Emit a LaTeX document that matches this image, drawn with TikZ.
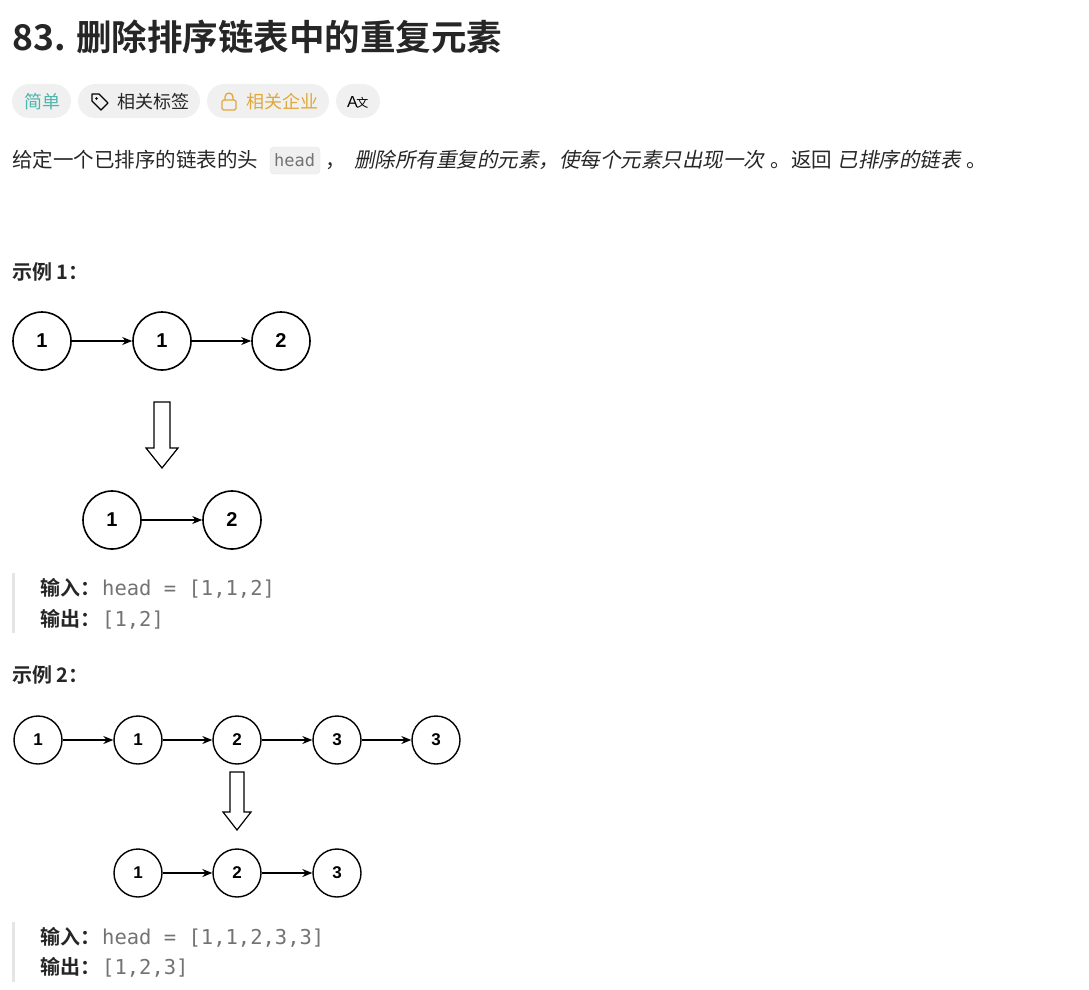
\documentclass[tikz,border=0pt]{standalone}
\usepackage{fontspec}
\setmainfont{Noto Sans CJK SC}
\newfontfamily\cjkr{Noto Sans CJK SC}
\newfontfamily\cjkb{Noto Sans CJK SC Bold}
\newfontfamily\numf{Liberation Sans}
\newfontfamily\monof{DejaVu Sans Mono}
\usetikzlibrary{arrows.meta}
\definecolor{pill}{HTML}{F0F0F0}
\definecolor{txt}{HTML}{262626}
\definecolor{gry}{HTML}{737373}
\definecolor{gold}{HTML}{E0A83A}
\definecolor{tealc}{HTML}{4DB6AC}
\begin{document}
\begin{tikzpicture}[x=1pt,y=-1pt,
 nd/.style={circle,draw,line width=1.6pt,minimum size=#1,inner sep=0pt,font=\numf\bfseries\fontsize{20}{20}\selectfont},
 ar/.style={-{Stealth[length=10pt,width=8pt]},line width=1.1pt},
 pl/.style={fill=pill,rounded corners=17pt},
 t18/.style={anchor=base west,inner sep=0pt,font=\fontsize{18}{18}\selectfont,text=txt},
 t20/.style={anchor=base west,inner sep=0pt,font=\fontsize{20.5}{20.5}\selectfont,text=txt},
 bl/.style={anchor=base west,inner sep=0pt,font=\cjkb\fontsize{20}{20}\selectfont,text=txt},
 mo/.style={anchor=base west,inner sep=0pt,font=\monof\fontsize{20.5}{20.5}\selectfont,text=gry},
 dn/.style={draw,line width=1.2pt,fill=white}]
\useasboundingbox (0,0) rectangle (1089,989);
% title
\node[anchor=base west,inner sep=0pt,font=\cjkb\fontsize{35.5}{35.5}\selectfont,text=txt] (title) at (12,50) {83. 删除排序链表中的重复元素};
% pills
\fill[pl] (12,84) rectangle (71,118);
\fill[pl] (78,84) rectangle (200,118);
\fill[pl] (207,84) rectangle (329,118);
\fill[pl] (336,84) rectangle (380,118);
\node[t18,text=tealc] (p1) at (24,108) {简单};
\draw[line width=1.4pt,line join=round] (92,94) -- (99,94) -- (108,103) -- (101,110) -- (92,101) -- cycle;
\fill (96.5,98.5) circle (1.3pt);
\node[t18] (p2) at (117,108) {相关标签};
\draw[line width=1.3pt,draw=gold,rounded corners=1.5pt] (222,100) rectangle (236,110);
\draw[line width=1.3pt,draw=gold] (225,100) -- (225,97) arc (180:360:4) -- (233,100);
\node[t18,text=gold] (p3) at (246,108) {相关企业};
\node[anchor=base west,inner sep=0pt,font=\numf\fontsize{16}{16}\selectfont] (p4) at (347,107) {A\kern-1.5pt{\cjkr\fontsize{12}{12}\selectfont 文}};
% sentence
\node[t20] (s1) at (12,167) {给定一个已排序的链表的头};
\fill[pill,draw=black!10,rounded corners=4pt] (270,147) rectangle (320,174);
\node[anchor=base west,inner sep=0pt,font=\monof\fontsize{17}{17}\selectfont,text=gry] (hd) at (274,166) {head};
\node[t20] (s2) at (325,167) {，};
\node[t20] (s3) at (354,167) {\addfontfeature{FakeSlant=0.2}删除所有重复的元素，使每个元素只出现一次};
\node[t20] (s4) at ([xshift=6pt]s3.base east) {。返回};
\node[t20] (s5) at ([xshift=5pt]s4.base east) {\addfontfeature{FakeSlant=0.2}已排序的链表};
\node[t20] (s6) at ([xshift=6pt]s5.base east) {。};
% example 1
\node[bl] (e1) at (12,279) {示例 1：};
\node[nd=58pt] (a1) at (42,341) {1};
\node[nd=58pt] (a2) at (162,341) {1};
\node[nd=58pt] (a3) at (281,341) {2};
\draw[ar] (a1) -- (a2); \draw[ar] (a2) -- (a3);
\draw[dn] (154,402) -- (170,402) -- (170,448) -- (178,448) -- (162,468) -- (146,448) -- (154,448) -- cycle;
\node[nd=58pt] (b1) at (112,520) {1};
\node[nd=58pt] (b2) at (232,520) {2};
\draw[ar] (b1) -- (b2);
\fill[black!10] (12,573) rectangle (15,633);
\node[bl] (i1) at (40,595) {输入：};
\node[mo] (i1v) at (102,595) {head = [1,1,2]};
\node[bl] (o1) at (40,626) {输出：};
\node[mo] (o1v) at (102,626) {[1,2]};
% example 2
\node[bl] (e2) at (12,682) {示例 2：};
\foreach \x/\v/\n in {38/1/c1,138/1/c2,237/2/c3,337/3/c4,436/3/c5}
  \node[nd=48pt,line width=1.4pt,font=\numf\bfseries\fontsize{17}{17}\selectfont] (\n) at (\x,740) {\v};
\draw[ar] (c1) -- (c2); \draw[ar] (c2) -- (c3); \draw[ar] (c3) -- (c4); \draw[ar] (c4) -- (c5);
\draw[dn] (230,772) -- (244,772) -- (244,812) -- (251,812) -- (237,830) -- (223,812) -- (230,812) -- cycle;
\foreach \x/\v/\n in {138/1/d1,237/2/d2,337/3/d3}
  \node[nd=48pt,line width=1.4pt,font=\numf\bfseries\fontsize{17}{17}\selectfont] (\n) at (\x,873) {\v};
\draw[ar] (d1) -- (d2); \draw[ar] (d2) -- (d3);
\fill[black!10] (12,922) rectangle (15,982);
\node[bl] (i2) at (40,944) {输入：};
\node[mo] (i2v) at (102,944) {head = [1,1,2,3,3]};
\node[bl] (o2) at (40,974) {输出：};
\node[mo] (o2v) at (102,974) {[1,2,3]};
\end{tikzpicture}
\end{document}
